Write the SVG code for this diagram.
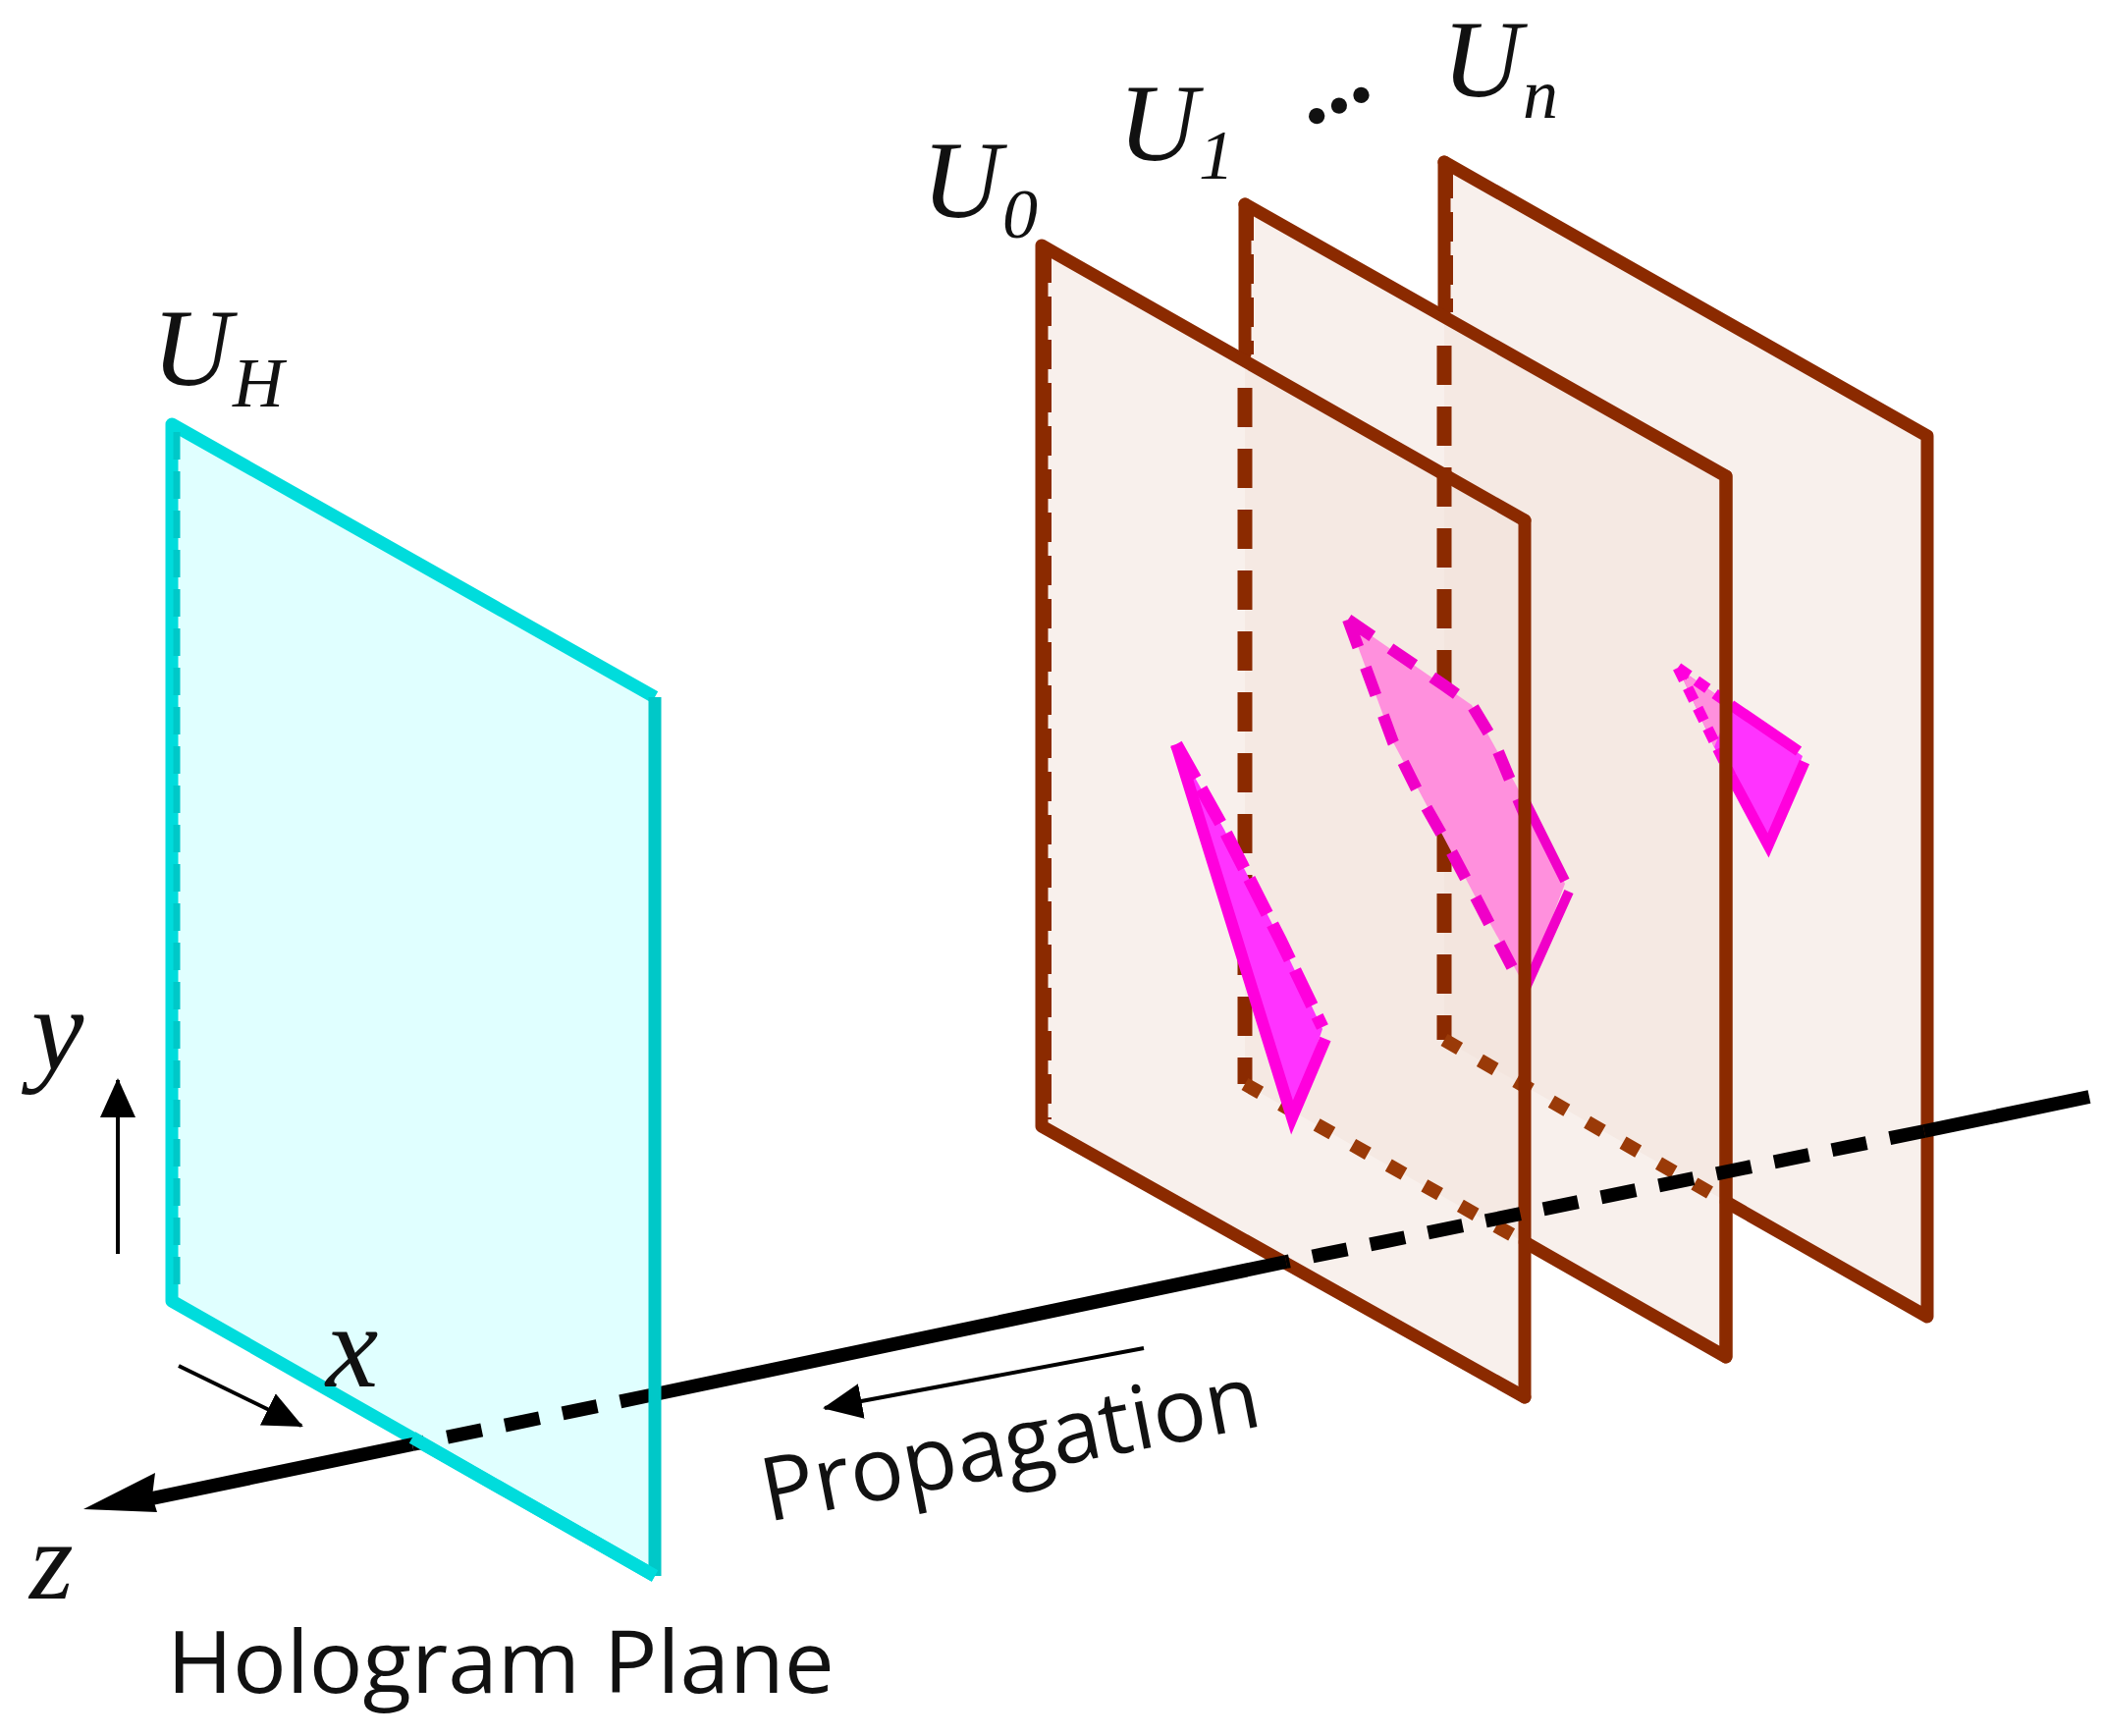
<svg xmlns="http://www.w3.org/2000/svg" width="2142" height="1768" viewBox="0 0 2142 1768">
<defs>
<marker id="ah" viewBox="0 0 10 10" refX="9.5" refY="5" markerWidth="10" markerHeight="10" markerUnits="strokeWidth" orient="auto"><path d="M0,0.5 L10,5 L0,9.5 Z" fill="#000"/></marker>
</defs>
<style>
.bp{fill:#f1e1d9;fill-opacity:.5;stroke:none}
.be{fill:none;stroke:#8b2a00;stroke-width:13;stroke-linejoin:round;stroke-linecap:round}
.bd{fill:none;stroke:#8b2a00;stroke-width:15;stroke-dasharray:40 22}
.bs{fill:none;stroke:#9a3a08;stroke-width:14;stroke-dasharray:18 24}
.bl{fill:none;stroke:#8b2a00;stroke-width:8;stroke-dasharray:30 14}
.ce{fill:none;stroke:#00dcdc;stroke-width:13;stroke-linejoin:round}
.m{font-family:"Liberation Serif",serif;font-style:italic;fill:#111}
.u{font-size:112px}.s{font-size:72px}
.t{font-family:"Open Sans","Noto Sans",sans-serif;fill:#111}
.ar{stroke:#000;stroke-width:4;fill:none;marker-end:url(#ah)}
.ax{stroke:#000;stroke-width:14;fill:none}
.axd{stroke:#000;stroke-width:14;fill:none;stroke-dasharray:36 24}
</style>
<g id="plane-un">
<path class="bp" d="M1471,165L1963,444V1341L1471,1059Z"/>
<path class="be" d="M1471,165L1963,444V1341L1758,1224"/>
<path class="be" d="M1471,165V318"/>
<path class="bl" d="M1476,172V318"/>
</g>
<g id="plane-u1">
<path class="bp" d="M1268,208L1758,485V1382L1268,1104Z"/>
<path class="be" d="M1268,208L1758,485V1382L1553,1265"/>
<path class="be" d="M1268,208V361"/>
<path class="bl" d="M1273,215V361"/>
</g>
<g id="plane-u0">
<path class="bp" d="M1061,250L1553,530V1423L1061,1147Z"/>
<path class="be" d="M1553,530L1061,250V1147L1553,1423"/>
<path class="bl" d="M1067,258V1140"/>
</g>
<g id="hidden-edges">
<path class="bd" d="M1471,352V1059"/>
<path class="bs" d="M1471,1059L1758,1224"/>
<path class="bd" d="M1268,395V1104"/>
<path class="bs" d="M1268,1104L1553,1265"/>
</g>
<g id="shape-c">
<path d="M1709,680L1763,718L1836,770L1801,861L1746,761Z" fill="#ff33ff"/>
<path d="M1709,680L1763,718L1746,761Z" fill="#ff90dd"/>
<path d="M1763,718L1832,765M1838,776L1801,861L1763,790" fill="none" stroke="#ff00dd" stroke-width="11"/>
<path d="M1709,680L1763,718M1709,680L1763,790" fill="none" stroke="#ff00dd" stroke-width="11" stroke-dasharray="14 9"/>
</g>
<g id="shape-b">
<path d="M1373,631L1499,718L1545,801L1594,900L1554,1006L1502,912L1419,756Z" fill="#ff90dd"/>
<path d="M1553,815L1594,897M1598,908L1554,1006" fill="none" stroke="#f000c8" stroke-width="10"/>
<path d="M1373,631L1471,698L1499,718L1522,756L1553,830M1373,631L1419,756L1448,814L1476,863L1502,912L1540,985" fill="none" stroke="#f000c8" stroke-width="12" stroke-dasharray="30 22"/>
</g>
<g id="shape-a">
<path d="M1198,758L1247,845L1304,957L1347,1048L1316,1138Z" fill="#ff33ff"/>
<path d="M1198,758L1316,1138L1350,1058" fill="none" stroke="#ff00dd" stroke-width="12"/>
<path d="M1198,758L1247,845L1304,957L1347,1046" fill="none" stroke="#ff00dd" stroke-width="13" stroke-dasharray="40 12"/>
</g>
<g id="front-edges">
<path class="be" d="M1758,485V1382"/>
<path class="be" d="M1553,530V1423"/>
</g>
<g id="plane-h">
<path d="M175,432L667,710V1605L175,1325Z" fill="#e0ffff"/>
<path class="ce" d="M667,1605L175,1325V432L667,710"/>
<path d="M180,440V1318" fill="none" stroke="#00c8c8" stroke-width="7" stroke-dasharray="28 12"/>
</g>
<g id="connectors">
<path class="ax" d="M2128,1117L1960,1152"/>
<path class="axd" d="M1960,1152L1310,1285"/>
<path class="ax" d="M1310,1285L667,1420"/>
<path class="axd" d="M667,1420L420,1471"/>
<path class="ax" d="M420,1471L150,1527"/>
<path d="M85,1537L158,1500L155,1524L160,1540Z" fill="#000"/>
<path d="M667,710V1605" fill="none" stroke="#00c8c8" stroke-width="13"/>
<path d="M420,1464L667,1605" fill="none" stroke="#00dcdc" stroke-width="13"/>
<path class="ar" d="M120,1277V1100"/>
<path class="ar" d="M182,1391L307,1452"/>
<path class="ar" d="M1165,1373L840,1434"/>
</g>
<g id="labels">
<text class="m u" x="155" y="392">U</text><text class="m s" x="237" y="414">H</text>
<text class="m u" x="939" y="221">U</text><text class="m s" x="1021" y="242">0</text>
<text class="m u" x="1139" y="163">U</text><text class="m s" x="1221" y="182">1</text>
<text class="m" font-size="100" x="1336" y="128" font-weight="bold" transform="rotate(-25 1336 128)">...</text>
<text class="m u" x="1469" y="98">U</text><text class="m s" x="1551" y="120">n</text>
<text class="m" font-size="120" x="32" y="1089">y</text>
<text class="m" font-size="120" x="332" y="1412">x</text>
<text class="m" font-size="115" x="30" y="1628">z</text>
<text class="t" font-size="88" x="170" y="1724" textLength="680" lengthAdjust="spacingAndGlyphs">Hologram Plane</text>
<text class="t" font-size="90" x="782" y="1550" textLength="515" lengthAdjust="spacingAndGlyphs" transform="rotate(-11 782 1550)">Propagation</text>
</g>
</svg>
